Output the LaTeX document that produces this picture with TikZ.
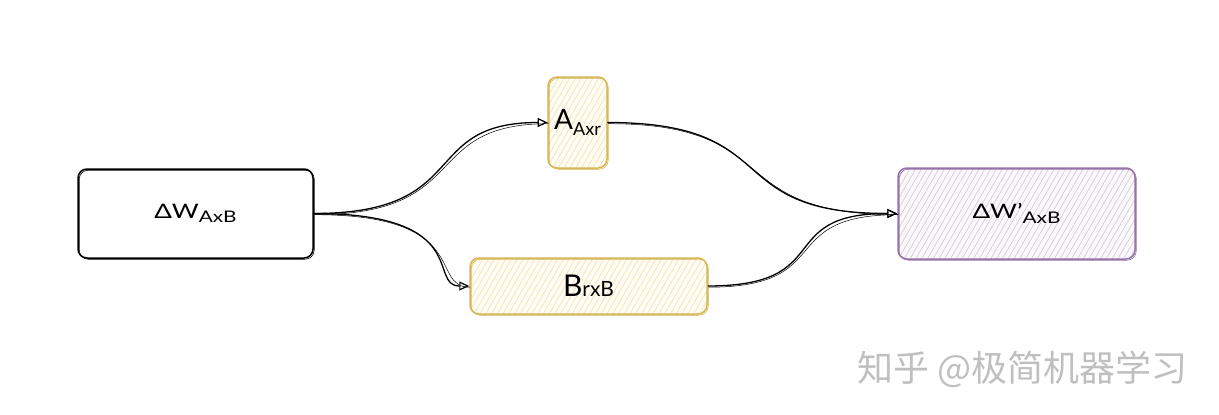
\documentclass[tikz,border=0pt]{standalone}
\usepackage{fontspec}
\setmainfont{Lato}
\newfontfamily\widefont{Lato}[FakeStretch=1.3]
\newfontfamily\cjkfont{Noto Sans CJK SC}
\usetikzlibrary{arrows.meta,patterns.meta}
\definecolor{goldline}{HTML}{D6B656}
\definecolor{goldfill}{HTML}{FFFDF4}
\definecolor{goldhatch}{HTML}{F1E3B6}
\definecolor{plumline}{HTML}{9673A6}
\definecolor{plumfill}{HTML}{FAF8FB}
\definecolor{plumhatch}{HTML}{D6CADD}
\tikzset{
  rough/.style={postaction={draw=#1, line width=0.6pt, transform canvas={shift={(1.2pt,-1.2pt)}}}},
  plainbox/.style={draw=black, fill=white, rounded corners=9pt, line width=1.5pt, inner sep=0pt, rough=black},
  hatchbox/.style n args={3}{
    draw=#1, preaction={fill=#2}, rounded corners=9pt, line width=1.5pt, inner sep=0pt,
    pattern={Lines[angle=60,distance=5pt,line width=0.7pt]}, pattern color=#3, rough=#1},
  link/.style={line width=1.3pt, -{Triangle[open,length=10pt,width=9pt,line width=1.2pt]},
    postaction={draw, line width=0.5pt, -, transform canvas={shift={(0.8pt,-1.2pt)}}}}
}
\newcommand{\bigsub}[5]{{\fontsize{#1}{#1}\selectfont #2}\raisebox{#5}{\fontsize{#3}{#3}\selectfont #4}}

\begin{document}
\begin{tikzpicture}[x=1pt,y=-1pt]
    \useasboundingbox (0,0) rectangle (1219,415);
    % boxes
    \node[plainbox, minimum width=235pt, minimum height=89pt] (dw) at (195.5,213.5)
        {\widefont\bigsub{20}{ΔW}{16}{AxB}{-4pt}};
    \node[hatchbox={goldline}{goldfill}{goldhatch}, minimum width=59pt, minimum height=91pt] (a) at (577.5,122.5)
        {\bigsub{28}{A}{18}{Axr}{-6pt}};
    \node[hatchbox={goldline}{goldfill}{goldhatch}, minimum width=237pt, minimum height=56pt] (b) at (588.5,286)
        {\bigsub{30}{B}{21}{rxB}{0pt}};
    \node[hatchbox={plumline}{plumfill}{plumhatch}, minimum width=237pt, minimum height=91pt] (dwn) at (1016.5,213.5)
        {\widefont\bigsub{20}{ΔW’}{16}{AxB}{-5pt}};
    % curved links
    \draw[link] (dw.east) .. controls +(160,0) and +(-130,0) .. (a.west);
    \draw[link] (dw.east) .. controls +(160,0) and +(-42,0) .. (b.west);
    \draw[link] (a.east) .. controls +(180,0) and +(-180,0) .. (dwn.west);
    \draw[link] (b.east) .. controls +(130,0) and +(-125,0) .. (dwn.west);
    % watermark
    \node[text=gray!50, anchor=west, inner sep=0pt] (mark) at (857,369)
        {\cjkfont\fontsize{36}{36}\selectfont 知乎 @极简机器学习};
\end{tikzpicture}
\end{document}
